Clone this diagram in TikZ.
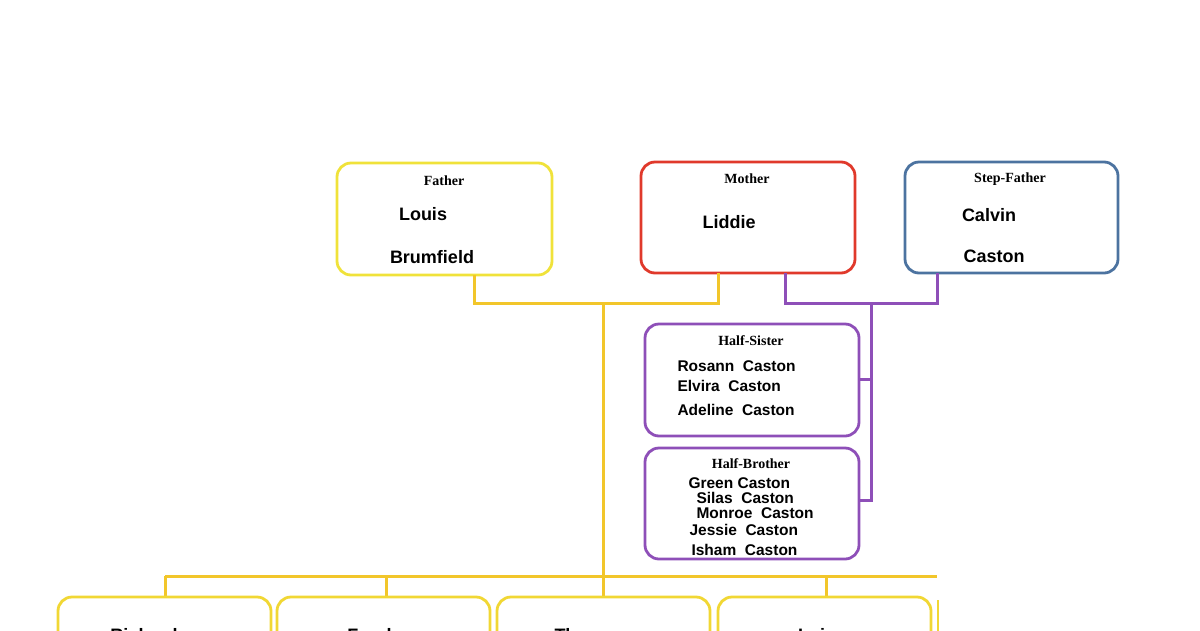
\documentclass[tikz,border=0pt]{standalone}
\usepackage{fontspec}
\setmainfont{Liberation Serif}
\setsansfont{Liberation Sans}
\begin{document}
\begin{tikzpicture}[x=1pt,y=-1pt,
  ttl/.style={font=\rmfamily\bfseries\fontsize{14}{16}\selectfont},
  nm/.style={font=\sffamily\bfseries\fontsize{18}{20}\selectfont},
  sm/.style={font=\sffamily\bfseries\fontsize{15.5}{17}\selectfont,anchor=west},
  gl/.style={draw=linkY,line width=3pt},
  pl/.style={draw=linkP,line width=3pt}]
\definecolor{boxY}{HTML}{F0E23A}
\definecolor{linkY}{HTML}{F2C62A}
\definecolor{boxR}{HTML}{E0392B}
\definecolor{boxB}{HTML}{4C73A0}
\definecolor{linkP}{HTML}{8E4FB8}
\useasboundingbox (0,0) rectangle (1200,630);
\clip (0,0) rectangle (1200,630);
% parent boxes
\draw[boxY,line width=2.8pt,rounded corners=14pt] (337,163) rectangle (552,275);
\draw[boxR,line width=2.8pt,rounded corners=14pt] (641,162) rectangle (855,273);
\draw[boxB,line width=2.8pt,rounded corners=14pt] (905,162) rectangle (1118,273);
\node[ttl] (tf) at (444,181) {Father};
\node[nm] (f1) at (423,214) {Louis};
\node[nm] (f2) at (432,257) {Brumfield};
\node[ttl] (tm) at (747,179) {Mother};
\node[nm] (m1) at (729,222) {Liddie};
\node[ttl] (ts) at (1010,179) {Step-Father};
\node[nm] (s1) at (989,215) {Calvin};
\node[nm] (s2) at (994,256) {Caston};
% half boxes
\draw[linkP,line width=2.8pt,rounded corners=14pt] (645,324) rectangle (859,436);
\draw[linkP,line width=2.8pt,rounded corners=14pt] (645,448) rectangle (859,559);
\node[ttl] (th) at (751,341) {Half-Sister};
\node[sm] (h1) at (674,366) {Rosann\ \ Caston};
\node[sm] (h2) at (674,386) {Elvira\ \ Caston};
\node[sm] (h3) at (674,410) {Adeline\ \ Caston};
\node[ttl] (tb) at (751,464) {Half-Brother};
\node[sm] (b1) at (685,483) {Green Caston};
\node[sm] (b2) at (693,498) {Silas\ \ Caston};
\node[sm] (b3) at (693,513) {Monroe\ \ Caston};
\node[sm] (b4) at (686,530) {Jessie\ \ Caston};
\node[sm] (b5) at (688,550) {Isham\ \ Caston};
% yellow links
\coordinate (fb) at (474,275); \coordinate (mb) at (718,273);
\coordinate (j) at (603,303);
\draw[gl] (fb) |- (j) -| (mb);
\draw[gl] (j) -- (603,576);
\draw[gl] (165,576) -- (937,576);
\foreach \x in {165,386,603,826} \draw[gl] (\x,576) -- (\x,597);
% purple links
\coordinate (mb2) at (785,273); \coordinate (sb) at (937,273);
\draw[pl] (mb2) |- (871,303) -| (sb);
\draw[pl] (871,303) -- (871,500) -- (859,500);
\draw[pl] (871,379) -- (859,379);
% children
\foreach \a/\n/\c in {58/Richard/144,277/Frank/372,497/Thomas/589,718/Irvin/817}{
  \draw[boxY!60!linkY,line width=2.8pt,rounded corners=14pt] (\a,660) |- (\a+213,597) -- (\a+213,660);
  \node[nm] at (\c,635) {\n};
}
\draw[boxY!60!linkY,line width=2.8pt] (938,600) -- (938,660);
\end{tikzpicture}
\end{document}
